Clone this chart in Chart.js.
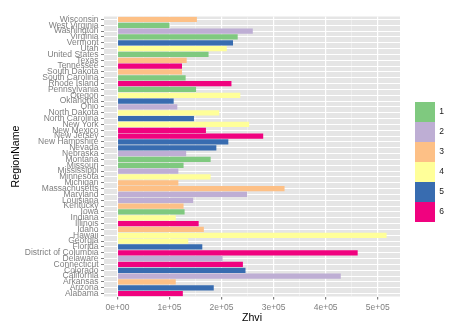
<!DOCTYPE html>
<html>
<head>
<meta charset="utf-8">
<script src="https://cdn.jsdelivr.net/npm/chart.js@4/dist/chart.umd.min.js"></script>
<style>
  html, body { margin: 0; padding: 0; background: #ffffff; }
  #wrap { width: 474px; height: 335px; }
</style>
</head>
<body>
<div id="wrap"><canvas id="c" width="474" height="335"></canvas></div>
<script>
// ---- data ----
const categories = [
  "Alabama","Arizona","Arkansas","California","Colorado","Connecticut","Delaware",
  "District of Columbia","Florida","Georgia","Hawaii","Idaho","Illinois","Indiana",
  "Iowa","Kentucky","Louisiana","Maryland","Massachusetts","Michigan","Minnesota",
  "Mississippi","Missouri","Montana","Nebraska","Nevada","New Hampshire","New Jersey",
  "New Mexico","New York","North Carolina","North Dakota","Ohio","Oklahoma","Oregon",
  "Pennsylvania","Rhode Island","South Carolina","South Dakota","Tennessee","Texas",
  "United States","Utah","Vermont","Virginia","Washington","West Virginia","Wisconsin"
];
const values = [
  125600,185000,112000,429000,246000,241000,202000,
  461500,163000,136000,517000,166000,156000,112000,
  129000,127000,145500,249000,321000,117000,179000,
  117000,127000,179000,132000,190000,213000,280000,
  170000,253000,147000,195500,115000,108000,236000,
  151000,219000,131000,124000,124000,133000,
  175000,210000,222000,231000,260000,100000,152600
];
const groups = [
  6,5,3,2,5,6,2,
  6,5,4,4,3,6,4,
  1,3,2,2,3,3,4,
  2,1,1,2,5,5,6,
  6,4,5,4,2,5,4,
  1,6,1,3,6,3,
  1,4,5,1,2,1,3
];
const groupLabels = ["1","2","3","4","5","6"];
const groupColors = ["#7FC97F","#BEAED4","#FDC086","#FFFF99","#386CB0","#F0027F"];
const xTickValues = [0, 100000, 200000, 300000, 400000, 500000];
const xTickLabels = ["0e+00","1e+05","2e+05","3e+05","4e+05","5e+05"];
const xMinorValues = [50000, 150000, 250000, 350000, 450000];

// ---- chart ----
Chart.defaults.font.family = '"Liberation Sans", Arial, Helvetica, sans-serif';

const datasets = groupLabels.map((g, gi) => ({
  label: g,
  data: values.map((v, i) => groups[i] === gi + 1 ? v : null),
  backgroundColor: groupColors[gi],
  borderWidth: 0,
  grouped: false,
  barPercentage: 0.9,
  categoryPercentage: 1.0,
  yAxisID: 'y',
  xAxisID: 'x'
}));

const panelBg = {
  id: 'panelBg',
  beforeDraw(chart) {
    const {ctx, chartArea: a} = chart;
    ctx.save();
    ctx.fillStyle = '#E5E5E5';
    ctx.fillRect(a.left, a.top, a.right - a.left, a.bottom - a.top);
    ctx.restore();
  }
};

const majorIndex = v => xTickValues.indexOf(v);

new Chart(document.getElementById('c'), {
  type: 'bar',
  data: { labels: categories, datasets },
  plugins: [panelBg],
  options: {
    indexAxis: 'y',
    responsive: false,
    animation: false,
    devicePixelRatio: 1,
    layout: { padding: { left: 10, right: 20, top: 0, bottom: 11 } },
    plugins: {
      tooltip: { enabled: false },
      title: { display: true, text: '', font: { size: 16.5, lineHeight: 1 }, padding: 0 },
      legend: {
        position: 'right',
        align: 'center',
        labels: {
          boxWidth: 20, boxHeight: 20, padding: 0,
          color: '#1a1a1a',
          font: { size: 8.5 }
        }
      }
    },
    scales: {
      x: {
        type: 'linear',
        position: 'bottom',
        min: -25850,
        max: 542850,
        afterBuildTicks: s => {
          s.ticks = xTickValues.concat(xMinorValues).sort((a, b) => a - b).map(v => ({ value: v }));
        },
        border: { display: false },
        grid: {
          color: c => majorIndex(c.tick.value) >= 0 ? '#FFFFFF' : '#F2F2F2',
          lineWidth: c => majorIndex(c.tick.value) >= 0 ? 1.2 : 0.7,
          tickColor: c => majorIndex(c.tick.value) >= 0 ? '#7F7F7F' : 'rgba(0,0,0,0)',
          tickLength: 3,
          drawTicks: true
        },
        ticks: {
          autoSkip: false,
          maxRotation: 0,
          padding: 3,
          color: '#7F7F7F',
          font: { size: 8.5 },
          callback: v => majorIndex(v) >= 0 ? xTickLabels[majorIndex(v)] : ''
        },
        title: { display: true, text: 'Zhvi', color: '#000000', font: { size: 10.6 }, padding: 0 },
        afterFit: s => { s.height = 27.5; }
      },
      y: {
        type: 'category',
        position: 'left',
        reverse: true,
        offset: true,
        border: { display: false },
        grid: {
          offset: false,
          color: '#FFFFFF',
          lineWidth: 1,
          tickColor: '#7F7F7F',
          tickLength: 3
        },
        ticks: {
          autoSkip: false,
          padding: 2.5,
          color: '#7F7F7F',
          font: { size: 8.5 }
        },
        title: { display: true, text: 'RegionName', color: '#000000', font: { size: 10.6 }, padding: 0 },
        afterFit: s => { s.width = 94; }
      },
      gap: {
        type: 'linear',
        position: 'right',
        display: true,
        grid: { display: false, drawTicks: false },
        border: { display: false },
        ticks: { display: false },
        afterFit: s => { s.width = 15; }
      }
    }
  }
});
</script>
</body>
</html>
